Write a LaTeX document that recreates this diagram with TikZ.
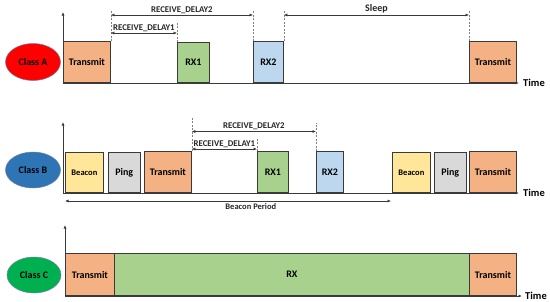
\documentclass[tikz,border=0pt]{standalone}
\usepackage{fontspec}
\setmainfont{Carlito}
\usepackage{xcolor}
\usepackage{tikz}
\usetikzlibrary{positioning,arrows.meta,shapes.geometric}

\definecolor{txorange}{HTML}{F4B183}
\definecolor{rxgreen}{HTML}{A9D18E}
\definecolor{rxblue}{HTML}{BDD7EE}
\definecolor{bcnyellow}{HTML}{FFE699}
\definecolor{pinggray}{HTML}{D9D9D9}
\definecolor{edgegray}{HTML}{3A3A3A}
\definecolor{classred}{HTML}{FF0000}
\definecolor{classblue}{HTML}{2E75B6}
\definecolor{classgreen}{HTML}{00B050}
\definecolor{ovalline}{HTML}{6F7F99}

\begin{document}
\begin{tikzpicture}[
x=1pt, y=-1pt,
>={Latex[length=3.5pt,width=3pt]},
slot/.style={
draw=edgegray,
line width=0.8pt,
anchor=south west,
inner sep=0pt,
minimum height=41pt,
font=\bfseries\fontsize{10}{12}\selectfont
},
classoval/.style={
ellipse,
draw=ovalline,
line width=0.5pt,
minimum width=55pt,
minimum height=37pt,
inner sep=0pt,
font=\bfseries\fontsize{10}{12}\selectfont
},
axis/.style={
<->,
line width=0.8pt,
draw=edgegray
},
guide/.style={
draw=gray,
line width=0.6pt,
dash pattern=on 2pt off 1.5pt
},
span/.style={
<->,
line width=0.6pt,
draw=edgegray
},
delaylabel/.style={
font=\bfseries\fontsize{8.8}{10}\selectfont,
text=black!85,
inner sep=1.2pt
},
timelabel/.style={
font=\bfseries\fontsize{10.5}{12}\selectfont,
inner sep=1pt
}
]

\useasboundingbox (0,0) rectangle (550,301);

%%%%%%%%%%%%%%%%%%%%%%%%%%%%%%%%%%%%%%%%%%%%%
% Class A
%%%%%%%%%%%%%%%%%%%%%%%%%%%%%%%%%%%%%%%%%%%%%

\node[classoval, fill=classred] (classA) at (33,62) {Class A};

\coordinate (oA) at (63,83);
\coordinate (topA) at (63,12);
\coordinate (endA) at (519,83);
\draw[axis] (topA) -- (oA) -- (endA);
\node[timelabel, right=3pt of endA] (timeA) {Time};

\node[slot, fill=txorange, minimum width=47pt] (txA1) at (63,83) {Transmit};
\node[slot, fill=rxgreen, minimum width=32pt, minimum height=40pt] (rxA1) at (177,83) {RX1};
\node[slot, fill=rxblue, minimum width=30pt] (rxA2) at (253,83) {RX2};
\node[slot, fill=txorange, minimum width=47pt] (txA2) at (469,83) {Transmit};

\coordinate (rowAtop) at (0,10);
\coordinate (rowAgap) at (0,22);
\coordinate (rowAlong) at (0,15);
\coordinate (rowAshort) at (0,33);

\draw[guide] (txA1.north east) -- (txA1.north east |- rowAtop);
\draw[guide] (rxA1.north west) -- (rxA1.north west |- rowAgap);
\draw[guide] (rxA2.north west) -- (rxA2.north west |- rowAtop);
\draw[guide] (rxA2.north east) -- (rxA2.north east |- rowAtop);
\draw[guide] (txA2.north west) -- (txA2.north west |- rowAtop);

\draw[span] (txA1.north east |- rowAlong) -- (rxA2.north west |- rowAlong)
node[delaylabel, midway, above] {RECEIVE\_DELAY2};
\draw[span] (txA1.north east |- rowAshort) -- (rxA1.north west |- rowAshort)
node[delaylabel, midway, above] {RECEIVE\_DELAY1};
\draw[span] (rxA2.north east |- rowAlong) -- (txA2.north west |- rowAlong)
node[delaylabel, midway, above, font=\bfseries\fontsize{10}{12}\selectfont] {Sleep};

%%%%%%%%%%%%%%%%%%%%%%%%%%%%%%%%%%%%%%%%%%%%%
% Class B
%%%%%%%%%%%%%%%%%%%%%%%%%%%%%%%%%%%%%%%%%%%%%

\node[classoval, fill=classblue, minimum height=36pt] (classB) at (33,170) {Class B};

\coordinate (oB) at (63,193);
\coordinate (topB) at (63,122);
\coordinate (endB) at (519,193);
\draw[axis] (topB) -- (oB) -- (endB);
\node[timelabel, right=3pt of endB] (timeB) {Time};

\node[slot, fill=bcnyellow, minimum width=38pt, minimum height=40pt,
font=\bfseries\fontsize{8.5}{10}\selectfont] (bcnB1) at (65,193) {Beacon};
\node[slot, fill=pinggray, minimum width=32pt, minimum height=40pt,
right=4pt of bcnB1] (pingB1) {Ping};
\node[slot, fill=txorange, minimum width=47pt] (txB1) at (144,193) {Transmit};
\node[slot, fill=rxgreen, minimum width=31pt] (rxB1) at (257,193) {RX1};
\node[slot, fill=rxblue, minimum width=27pt] (rxB2) at (316,193) {RX2};
\node[slot, fill=bcnyellow, minimum width=38pt, minimum height=40pt,
font=\bfseries\fontsize{8.5}{10}\selectfont] (bcnB2) at (392,193) {Beacon};
\node[slot, fill=pinggray, minimum width=32pt, minimum height=40pt,
right=3pt of bcnB2] (pingB2) {Ping};
\node[slot, fill=txorange, minimum width=47pt] (txB2) at (469,193) {Transmit};

\coordinate (rowBtop) at (0,118);
\coordinate (rowBmid) at (0,123);
\coordinate (rowBgap) at (0,138);
\coordinate (rowBlong) at (0,131.5);
\coordinate (rowBshort) at (0,149);
\coordinate (rowBperiod) at (0,201);
\coordinate (periodEnd) at (391,201);

\draw[guide] (txB1.north east) -- (txB1.north east |- rowBtop);
\draw[guide] (rxB1.north west) -- (rxB1.north west |- rowBgap);
\draw[guide] (rxB2.north west) -- (rxB2.north west |- rowBmid);

\draw[span] (txB1.north east |- rowBlong) -- (rxB2.north west |- rowBlong)
node[delaylabel, midway, above] {RECEIVE\_DELAY2};
\draw[span] (txB1.north east |- rowBshort) -- (rxB1.north west |- rowBshort)
node[delaylabel, midway, above] {RECEIVE\_DELAY1};
\draw[span] (bcnB1.south west |- rowBperiod) -- (periodEnd)
node[delaylabel, pos=0.57, below=1pt, font=\bfseries\fontsize{8.5}{10}\selectfont] {Beacon Period};

%%%%%%%%%%%%%%%%%%%%%%%%%%%%%%%%%%%%%%%%%%%%%
% Class C
%%%%%%%%%%%%%%%%%%%%%%%%%%%%%%%%%%%%%%%%%%%%%

\node[classoval, fill=classgreen, minimum width=54pt, minimum height=36pt] (classC) at (34,275) {Class C};

\coordinate (oC) at (65,296);
\coordinate (topC) at (65,225);
\coordinate (endC) at (522,296);
\draw[axis] (topC) -- (oC) -- (endC);
\node[timelabel, right=2pt of endC] (timeC) {Time};

\node[slot, fill=txorange, minimum width=49pt, minimum height=42pt] (txC1) at (65,296) {Transmit};
\node[slot, fill=rxgreen, minimum width=355pt, minimum height=42pt] (rxC) at (114,296) {RX};
\node[slot, fill=txorange, minimum width=47pt, minimum height=42pt] (txC2) at (469,296) {Transmit};

\end{tikzpicture}
\end{document}
